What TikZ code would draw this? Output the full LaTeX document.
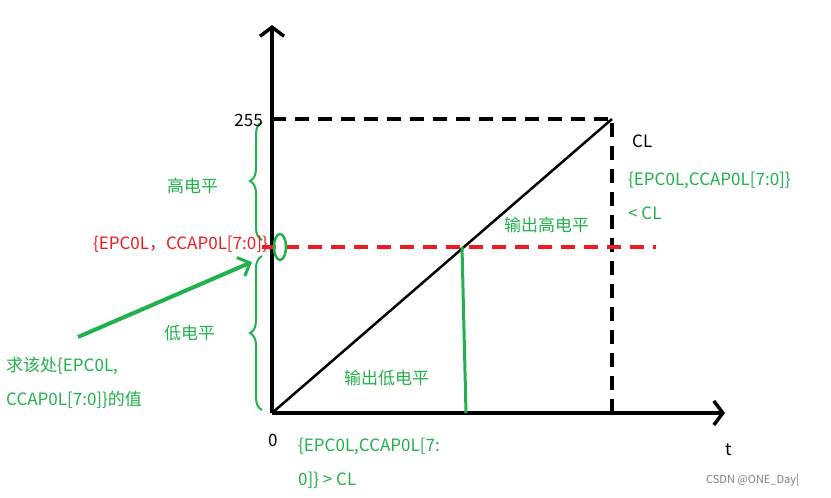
\documentclass[tikz,border=0pt]{standalone}
\usepackage{fontspec}
\setmainfont{Noto Sans CJK SC}
\usetikzlibrary{arrows.meta,decorations.pathreplacing,shapes.geometric}
\definecolor{gr}{RGB}{34,177,76}
\definecolor{rd}{RGB}{237,28,36}
\tikzset{lbl/.style={font=\fontsize{17}{20}\selectfont,anchor=west,inner sep=0},
 axis/.style={line width=3.5pt,-{Straight Barb[length=9pt,width=24pt,line width=3.5pt]}},
 blk/.style={line width=3.5pt,dash pattern=on 14pt off 9pt}}
\begin{document}
\begin{tikzpicture}[x=1pt,y=-1pt]
\useasboundingbox[fill=white] (0,0) rectangle (831,498);
\coordinate (o) at (272,413);
\coordinate (ytop) at (272,25);
\coordinate (xend) at (725,413);
\coordinate (p255) at (272,119);
\coordinate (pk) at (612,119);
\coordinate (pkb) at (612,413);
\coordinate (rl) at (262,247);
\coordinate (rr) at (656,247);
\coordinate (gt) at (462,247);
\coordinate (gb) at (466,413);
\draw[axis] (o) -- (ytop);
\draw[axis] (o) -- (xend);
\draw[blk] (p255) -- (pk);
\draw[blk] (pkb) -- (pk);
\draw[line width=2.5pt] (o) -- (pk);
\draw[rd,line width=3.5pt,dash pattern=on 14pt off 9pt] (rl) -- (rr);
\draw[gr,line width=3pt] (gt) -- (gb);
\node[draw=gr,line width=2.5pt,ellipse,minimum width=12pt,minimum height=26pt,inner sep=0] (el) at (280,247) {};
\draw[gr,line width=2pt,decorate,decoration={brace,amplitude=12pt}] (262,240) -- (262,122);
\draw[gr,line width=2pt,decorate,decoration={brace,amplitude=12pt}] (262,410) -- (262,256);
\coordinate (as) at (78,337);
\draw[gr,line width=4pt,-{Straight Barb[length=10pt,width=20pt,line width=3pt]}] (as) -- (252,262);
\node[lbl,anchor=east] (t255) at (263,120) {255};
\node[lbl] (tcl) at (632,141) {CL};
\node[lbl,text=gr] (tc1) at (628,180) {\{EPC0L,CCAP0L[7:0]\}};
\node[lbl,text=gr] (tc2) at (628,213) {< CL};
\node[lbl,text=gr] (th) at (167,186) {高电平};
\node[lbl,text=rd,anchor=east] (tr) at (268,244) {\{EPC0L，CCAP0L[7:0]\}};
\node[lbl,text=gr] (tl) at (164,333) {低电平};
\node[lbl,text=gr] (toh) at (504,225) {输出高电平};
\node[lbl,text=gr] (tol) at (344,378) {输出低电平};
\node[lbl,text=gr] (tq1) at (6,366) {求该处\{EPC0L,};
\node[lbl,text=gr] (tq2) at (6,400) {CCAP0L[7:0]\}的值};
\node[lbl] (t0) at (268,440) {0};
\node[lbl,text=gr] (tb1) at (298,446) {\{EPC0L,CCAP0L[7:};
\node[lbl,text=gr] (tb2) at (298,480) {0]\} > CL};
\node[lbl] (tt) at (725,450) {t};
\node[lbl,text=gray,font=\fontsize{11}{13}\selectfont] (wm) at (706,480) {CSDN @ONE\_Day|};
\end{tikzpicture}
\end{document}
